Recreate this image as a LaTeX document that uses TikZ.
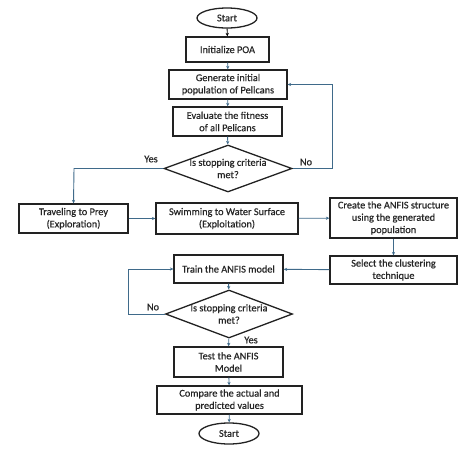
\documentclass[tikz,border=0pt]{standalone}
\usepackage{fontspec}
\setmainfont{Carlito}[FakeBold=0.6]
\usetikzlibrary{shapes.geometric,arrows.meta}
\definecolor{arr}{HTML}{3F6A8A}
\definecolor{edge}{HTML}{222222}
\begin{document}
\begin{tikzpicture}[x=1pt,y=-1pt,
  every node/.style={font=\fontsize{10.3}{12.3}\selectfont, text=black!85, align=center, inner sep=1pt},
  box/.style={draw=edge, line width=1.3pt, rectangle},
  term/.style={draw=edge, line width=1.3pt, ellipse},
  dec/.style={draw=edge, line width=1.3pt, diamond, aspect=2.7},
  link/.style={draw=arr, line width=0.9pt, -{Stealth[length=3.5pt,width=3.2pt]}},
  lab/.style={font=\fontsize{10.3}{12.3}\selectfont}]
\useasboundingbox (0,0) rectangle (474,450);
\node[term, minimum width=60, minimum height=20] (s) at (227,18) {Start};
\node[box, minimum width=83, minimum height=25] (init) at (227.5,49.5) {Initialize POA};
\node[box, minimum width=118, minimum height=29] (gen) at (228,84.5) {Generate initial\\population of Pelicans};
\node[box, minimum width=109, minimum height=29] (eval) at (227.5,121.5) {Evaluate the fitness\\of all Pelicans};
\node[dec, minimum width=128, minimum height=47, inner sep=0pt] (d1) at (228,168.5) {};
\node at (228,168.5) {Is stopping criteria\\met?};
\node[box, minimum width=109, minimum height=29] (trav) at (73.5,218.5) {Traveling to Prey\\(Exploration)};
\node[box, minimum width=142, minimum height=31] (swim) at (227,218.5) {Swimming to Water Surface\\(Exploitation)};
\node[box, minimum width=127, minimum height=40] (anf) at (393.5,218) {Create the ANFIS structure\\using the generated\\population};
\node[box, minimum width=127, minimum height=28] (sel) at (393.5,270) {Select the clustering\\technique};
\node[box, minimum width=109, minimum height=28] (train) at (228.5,269) {Train the ANFIS model};
\node[dec, minimum width=127, minimum height=48, inner sep=0pt] (d2) at (229,314) {};
\node at (229,314) {Is stopping criteria\\met?};
\node[box, minimum width=109, minimum height=30] (test) at (228.5,362) {Test the ANFIS\\Model};
\node[box, minimum width=145, minimum height=28] (cmp) at (229.5,400) {Compare the actual and\\predicted values};
\node[term, minimum width=60, minimum height=21] (e) at (229,433.5) {Start};
\coordinate (c1) at (332,168.5);
\coordinate (c2) at (74,168.5);
\coordinate (c3) at (128,314);
\draw[link, draw=black] (s) -- (init);
\draw[link] (init) -- (gen);
\draw[link] (gen) -- (eval);
\draw[link] (eval) -- (d1);
\draw[link] (d1.east) -- (c1) |- (gen.east);
\draw[link] (d1.west) -- (c2) -- (trav.north);
\draw[link] (trav) -- (swim);
\draw[link] (swim) -- (anf);
\draw[link] (anf) -- (sel);
\draw[link] (sel) -- (train);
\draw[link] (train) -- (d2);
\draw[link] (d2.west) -- (c3) |- (train.west);
\draw[link] (d2) -- (test);
\draw[link] (test) -- (cmp);
\draw[link] (cmp) -- (e);
\node[lab] (y1) at (151,159) {Yes};
\node[lab] (n1) at (306,162) {No};
\node[lab] (n2) at (153,307) {No};
\node[lab] (y2) at (251,340) {Yes};
\end{tikzpicture}
\end{document}
